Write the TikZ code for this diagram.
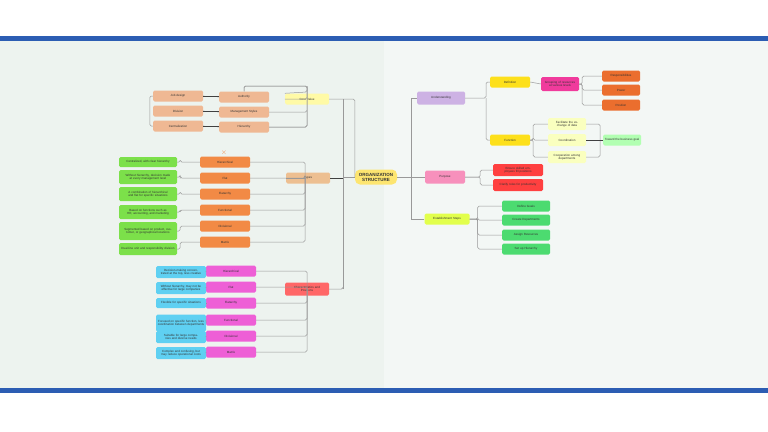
\documentclass[tikz,border=0pt]{standalone}
\usepackage{fontspec}
\setmainfont{Liberation Sans}
\definecolor{barc}{HTML}{2C5DB3}
\definecolor{bgl}{HTML}{EDF3EF}
\definecolor{bgr}{HTML}{F3F7F5}
\definecolor{peach}{HTML}{EFB893}
\definecolor{orn}{HTML}{F28A45}
\definecolor{grn}{HTML}{7CE04A}
\definecolor{pnk}{HTML}{EE5FD6}
\definecolor{blu}{HTML}{5FD0F2}
\begin{document}
\begin{tikzpicture}[x=1pt,y=-1pt,
 bx/.style={rounded corners=1.5pt,minimum height=11pt,align=center,inner sep=0.5pt,font=\fontsize{3}{3.5}\selectfont,text=black!80},
 w/.style={minimum width=#1pt,text width=#1pt-2pt},
 ln/.style={draw=gray!80,line width=0.5pt,rounded corners=1.5pt},
 dk/.style={draw=black!75,line width=0.8pt}]
\useasboundingbox (0,0) rectangle (768,431);
\fill[white] (0,0) rectangle (768,431);
\fill[barc] (0,36) rectangle (768,41);
\fill[barc] (0,388) rectangle (768,393);
\fill[bgl] (0,41) rectangle (768,388);
\fill[bgr] (384,41) rectangle (768,388);
% center
\node[bx,w=42,minimum height=15pt,fill=yellow!70!orange!55,font=\fontsize{4.5}{5}\selectfont\bfseries,rounded corners=5pt] (c) at (376,177) {ORGANIZATION\\STRUCTURE};
% left top
\tikzset{pe/.style={bx,w=50,fill=peach}}
\node[pe] (jd) at (178,96) {Job design};
\node[pe] (dv) at (178,111) {Division};
\node[pe] (ce) at (178,126) {Centralization};
\node[pe] (au) at (244,97) {Authority};
\node[pe] (ms) at (244,112) {Management Styles};
\node[pe] (hi) at (244,127) {Hierarchy};
\node[bx,w=44,fill=yellow!35] (cv) at (307,99) {Core Value};
\draw[dk] (jd)--(au); \draw[dk] (dv)--(ms); \draw[dk] (ce)--(hi);
\draw[ln] (jd.west) -- ++(-3,0) |- (ce.west);
\draw[ln] (au.north) |- (307,86) -- (307,92) -- (cv.north west) ++(0,0);
\draw[ln] (au.north) |- (307,86) |- (cv.west);
\draw[ln] (ms.east) -| (307,86);
\draw[ln] (hi.east) -| (307,112) -- (307,112);
\draw[ln] (hi.east) -| (307,86);
\draw[ln] (cv.east) -| (c.west);
% types
\node[bx,w=44,fill=brown!55!orange!50] (ty) at (308,178) {Types};
\tikzset{or/.style={bx,w=50,fill=orn}, gr/.style={bx,w=58,fill=grn,minimum height=10pt}}
\foreach \n/\y/\t in {o1/162/Hierarchical,o2/178/Flat,o3/194/Flatarchy,o4/210/Functional,o5/226/Divisional,o6/242/Matrix}
  {\node[or] (\n) at (225,\y) {\t};}
\node[gr] (g1) at (148,162) {Centralized, with clear hierarchy};
\node[gr,minimum height=14pt] (g2) at (148,177) {Without hierarchy, decision made at every management level};
\node[gr,minimum height=14pt] (g3) at (148,194) {A combination of hierarchical and flat for specific situations};
\node[gr,minimum height=14pt] (g4) at (148,212) {Based on functions such as HR, accounting, and marketing};
\node[gr,minimum height=18pt] (g5) at (148,231) {Segmented based on product, customer, or geographical locations};
\node[gr,minimum height=12pt] (g6) at (148,249) {Dual-line unit and responsibility division};
\foreach \i in {1,...,6}{\draw[ln] (g\i.east) -| ++(3,0) |- (o\i.west);
  \draw[ln] (o\i.east) -| (305,178);}
\draw[ln] (305,178) -- (ty.west);
\draw[dk] (ty.east) -- (343,178);
\draw[ln] (343,99) -- (343,289);
\draw[ln] (c.west) -- (343,177);
\node[text=orn,font=\fontsize{7}{7}\selectfont] at (224,153) {$\times$};
% characteristics
\node[bx,w=44,minimum height=13pt,fill=red!55!pink!90] (ch) at (307,289) {Characteristics and\\Positions};
\tikzset{pk/.style={bx,w=50,fill=pnk}, bl/.style={bx,w=50,fill=blu,minimum height=12pt}}
\foreach \n/\y/\t in {p1/271/Hierarchical,p2/287/Flat,p3/303/Flatarchy,p4/320/Functional,p5/336/Divisional,p6/352/Matrix}
  {\node[pk] (\n) at (231,\y) {\t};}
\node[bl] (b1) at (181,272) {Decision-making concentrated at the top, less creative};
\node[bl] (b2) at (181,288) {Without hierarchy, may not be effective for large companies};
\node[bl,minimum height=10pt] (b3) at (181,303) {Flexible for specific situations};
\node[bl,minimum height=17pt] (b4) at (181,323) {Focused on specific function, less coordination between departments};
\node[bl] (b5) at (181,337) {Suitable for large companies and diverse needs};
\node[bl] (b6) at (181,353) {Complex and confusing, but may reduce operational costs};
\foreach \i in {1,...,6}{\draw[ln] (b\i.east) -- (p\i.west);
  \draw[ln] (p\i.east) -| (307,289);}
\draw[ln] (ch.east) -| (343,289);
% right
\draw[ln] (c.east) -- (411,177);
\draw[ln] (411,98) -- (411,219);
\node[bx,w=48,minimum height=13pt,fill=blue!30!violet!30] (un) at (441,98) {Understanding};
\node[bx,w=40,minimum height=13pt,fill=magenta!50!pink!70] (pu) at (445,177) {Purpose};
\node[bx,w=45,fill=lime!65!yellow!70] (es) at (447,219) {Establishment Steps};
\draw[ln] (un.west) -- (411,98); \draw[ln] (es.west) -- (411,219); \draw[ln] (411,177)--(pu.west);
\tikzset{yl/.style={bx,w=40,fill=yellow!80!orange!90}}
\node[yl] (de) at (510,82) {Definition};
\node[yl] (fu) at (510,140) {Function};
\draw[ln] (un.east) -| (486,82) -- (de.west);
\draw[ln] (486,98) |- (fu.west);
\node[bx,w=38,minimum height=14pt,fill=magenta!70!pink] (gr) at (560,84) {Grouping of resources at various levels};
\draw[ln] (de.east) -- (gr.west);
\tikzset{rs/.style={bx,w=38,fill=orange!60!red!65!brown!90}}
\node[rs] (r1) at (621,76) {Responsibilities};
\node[rs] (r2) at (621,90) {Power};
\node[rs] (r3) at (621,105) {Position};
\foreach \i in {1,2,3}{\draw[ln] (gr.east) -- ++(3,0) |- (r\i.west);}
\tikzset{lg/.style={bx,w=38,fill=lime!30!yellow!25,minimum height=12pt}}
\node[lg] (f1) at (567,124) {Facilitate the exchange of data};
\node[lg] (f2) at (567,140) {Coordination};
\node[lg] (f3) at (567,157) {Cooperation among departments};
\node[bx,w=38,fill=green!30] (tb) at (622,140) {Toward the business goal};
\foreach \i in {1,2,3}{\draw[ln] (fu.east) -- ++(3,0) |- (f\i.west);}
\draw[ln] (f1.east) -| (600,140); \draw[ln] (f3.east) -| (600,140);
\draw[dk] (f2) -- (tb);
\tikzset{rd/.style={bx,w=50,fill=red!75!white,minimum height=12pt}}
\node[rd] (u1) at (518,170) {Ensure skilled employees fill positions};
\node[rd] (u2) at (518,185) {Clarify roles for productivity};
\draw[ln] (pu.east) -- ++(15,0) |- (u1.west); \draw[ln] (pu.east) -- ++(15,0) |- (u2.west);
\tikzset{gg/.style={bx,w=48,fill=green!60!teal!70}}
\foreach \n/\y/\t in {s1/206/Define Goals,s2/220/Create Departments,s3/235/Assign Resources,s4/249/Set up Hierarchy}
 {\node[gg] (\n) at (526,\y) {\t}; \draw[ln] (es.east) -- ++(8,0) |- (\n.west);}
\end{tikzpicture}
\end{document}
